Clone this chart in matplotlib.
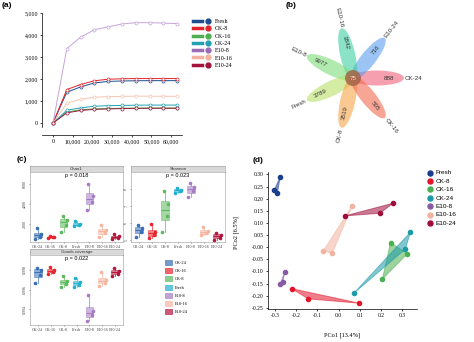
import matplotlib.pyplot as plt
from matplotlib.patches import Ellipse, Circle, Patch, Polygon
from matplotlib.lines import Line2D
from matplotlib.legend_handler import HandlerTuple
import numpy as np

plt.rcParams["font.family"] = "Liberation Serif"

# ---- data ----
groups = ["Fresh", "CK-8", "CK-16", "CK-24", "E10-8", "E10-16", "E10-24"]
colors = ["#1d4e8f", "#e3232a", "#4caf50", "#22a1b3", "#9b6bb8", "#f4b3a0", "#a3143d"]
curve_colors = ["#1d4e8f", "#e3232a", "#4caf50", "#22a1b3", "#c7a3d9", "#f8c4b4", "#9c1a3c"]

# (a) rarefaction
depth = [0, 7000, 14000, 21000, 28000, 35000, 42000, 49000, 56000, 63000]
fresh = [0, 1400, 1640, 1820, 1890, 1910, 1920, 1925, 1925, 1925]
ck8 = [0, 1520, 1750, 1920, 1990, 2010, 2020, 2020, 2020, 2020]
ck16 = [0, 500, 600, 640, 660, 670, 675, 680, 680, 680]
ck24 = [0, 580, 690, 760, 790, 800, 810, 815, 815, 815]
e10_8 = [0, 3380, 3900, 4240, 4370, 4500, 4560, 4560, 4540, 4520]
e10_16 = [0, 900, 1080, 1170, 1200, 1210, 1220, 1220, 1215, 1215]
e10_24 = [0, 460, 570, 620, 640, 655, 665, 670, 670, 670]
curves = [fresh, ck8, ck16, ck24, e10_8, e10_16, e10_24]

# (b) flower diagram
petal_names = ["CK-24", "E10-24", "E10-16", "E10-8", "Fresh", "CK-8", "CK-16"]
petal_counts = [888, 716, 1842, 9977, 3789, 3519, 505]
petal_colors = ["#f0607a", "#5b9ff0", "#3ecfa0", "#7ddc7a", "#b9e06a", "#f7a54a", "#f26b4f"]
core_count = 75

# (c) alpha diversity
c_groups = ["CK-24", "CK-16", "CK-8", "Fresh", "E10-8", "E10-16", "E10-24"]
c_colors = ["#3b6fb6", "#e8242c", "#5cb85c", "#22b0cf", "#a57cc4", "#f6b59f", "#b5163f"]
chao1 = [[450, 700, 950, 1550], [560, 640, 700, 760], [1150, 1900, 2400, 2800],
         [1750, 1850, 1950, 2250], [3400, 4200, 4800, 6000], [650, 1100, 1400, 1850],
         [450, 600, 750, 1000]]
shannon = [[5.2, 5.5, 5.7, 5.88], [5.12, 5.3, 5.5, 5.92], [5.5, 6.4, 7.1, 7.85],
           [7.75, 7.85, 7.95, 8.05], [7.5, 7.85, 8.1, 8.35], [5.3, 5.42, 5.55, 5.77],
           [5.0, 5.15, 5.3, 5.45]]
goods = [[0.9967, 0.9975, 0.9980, 0.99815], [0.9976, 0.9978, 0.9980, 0.99827],
         [0.9963, 0.9966, 0.9969, 0.99735], [0.9963, 0.9965, 0.9968, 0.9972],
         [0.9928, 0.9934, 0.9938, 0.9954], [0.9964, 0.9967, 0.9970, 0.99775],
         [0.99735, 0.9976, 0.9979, 0.99815]]
p_values = ["0.018", "0.023", "0.022"]

# (d) PCoA
pc1 = {"Fresh": [-0.276, -0.303, -0.289], "CK-8": [-0.221, -0.143, 0.097],
       "CK-16": [0.245, 0.325, 0.207], "CK-24": [0.339, 0.315, 0.072],
       "E10-8": [-0.253, -0.264, -0.276], "E10-16": [0.064, -0.072, -0.03],
       "E10-24": [0.257, 0.03, 0.195]}
pc2 = {"Fresh": [0.288, 0.236, 0.222], "CK-8": [-0.171, -0.213, -0.231],
       "CK-16": [0.019, -0.027, -0.131], "CK-24": [0.062, -0.008, -0.19],
       "E10-8": [-0.102, -0.143, -0.152], "E10-16": [0.170, -0.015, -0.026],
       "E10-24": [0.181, 0.129, 0.14]}
d_colors = ["#1a3e8c", "#e3152a", "#4cb050", "#1b9aa8", "#8a5ba5", "#f2b3a0", "#a00d3b"]

W, H = 474, 342
fig = plt.figure(figsize=(W / 100, H / 100), dpi=100)


def px_axes(x0, y0, x1, y1):
    return fig.add_axes([x0 / W, 1 - y1 / H, (x1 - x0) / W, (y1 - y0) / H])


# ---------- (a) ----------
ax = px_axes(42, 12, 182, 135)
for g, c, vals in zip(groups, curve_colors, curves):
    ax.plot(depth, vals, color=c, lw=0.7, marker="o", ms=2.2, mfc="white", mew=0.5)
ax.set_xlim(-5600, 65500)
ax.set_ylim(-545, 5045)
ax.set_xticks(range(0, 60001, 10000))
ax.set_xticklabels([f"{v:,}" for v in range(0, 60001, 10000)])
ax.set_yticks(range(0, 5001, 1000))
ax.set_yticklabels([f"{v:,}" for v in range(0, 5001, 1000)])
for s in ["top", "right"]:
    ax.spines[s].set_visible(False)
ax.spines["left"].set_bounds(-180, 5000)
ax.spines["left"].set_linewidth(0.5)
ax.spines["bottom"].set_linewidth(0.5)
ax.tick_params(labelsize=4.2, length=1.5, width=0.5, pad=1.5)

handles = [(Line2D([], [], color=c, lw=2.5), Line2D([], [], color=c, marker="o", ls="", ms=3.5))
           for c in colors]
fig.legend(handles, groups, loc="upper left", bbox_to_anchor=(193 / W, 1 - 19 / H),
           frameon=False, fontsize=4.3, handlelength=3.2, handletextpad=0.5,
           labelspacing=0.35, borderpad=0, borderaxespad=0,
           handler_map={tuple: HandlerTuple(ndivide=None, pad=0.3)})

# ---------- (b) ----------
axb = px_axes(280, 0, 470, 150)
axb.set_xlim(-73, 117)
axb.set_ylim(-72, 78)
axb.axis("off")
for i, (name, n, col) in enumerate(zip(petal_names, petal_counts, petal_colors)):
    ang = 360 / 7 * i
    t = np.deg2rad(ang)
    axb.add_patch(Ellipse((24 * np.cos(t), 24 * np.sin(t)), 54, 15, angle=ang,
                          fc=col, alpha=0.6, ec="none"))
    if ang < 90 or ang > 270:
        rot, ha = (ang if ang <= 90 else ang - 360), "left"
    else:
        rot, ha = ang - 180, "right"
    axb.text(36 * np.cos(t), 36 * np.sin(t), str(n), rotation=rot, ha="center", va="center",
             rotation_mode="anchor", fontsize=4.5, family="Liberation Sans", color="#333333")
    axb.text(52 * np.cos(t), 52 * np.sin(t), name, rotation=rot, ha=ha, va="center",
             rotation_mode="anchor", fontsize=4.5, family="Liberation Sans", color="#333333")
axb.add_patch(Circle((0, 0), 8, fc="#a5654a", alpha=0.85, ec="none"))
axb.text(0, 0, str(core_count), ha="center", va="center", fontsize=4.5,
         family="Liberation Sans", color="#f0e0d8")

# ---------- (c) ----------
jitter = [-0.22, 0.18, 0.26, -0.08]


def facet(x0, y0, x1, y1, title, pval, data, ylim, ticks, ticklabels):
    strip = px_axes(x0, y0, x1, y0 + 6)
    strip.set_facecolor("#d9d9d9")
    strip.set_xticks([])
    strip.set_yticks([])
    for s in strip.spines.values():
        s.set_color("#999999")
        s.set_linewidth(0.4)
    strip.text(0.5, 0.45, title, ha="center", va="center", fontsize=3.2,
               transform=strip.transAxes, family="Liberation Sans", color="#333333")
    a = px_axes(x0, y0 + 6, x1, y1)
    bp = a.boxplot(data, positions=range(7), widths=0.6, patch_artist=True,
                   showfliers=False, whis=10)
    for i, c in enumerate(c_colors):
        bp["boxes"][i].set(facecolor=c, alpha=0.55, edgecolor=c, lw=0.6)
        bp["medians"][i].set(color=c, lw=0.8)
        for w in bp["whiskers"][2 * i:2 * i + 2]:
            w.set(color=c, lw=0.5)
        for cp in bp["caps"][2 * i:2 * i + 2]:
            cp.set(color=c, lw=0.5, xdata=[i, i])
        a.scatter(np.array(jitter) + i, data[i], s=2.5, color=c, zorder=3)
    a.set_xlim(-0.6, 6.6)
    a.set_ylim(*ylim)
    a.set_yticks(ticks)
    a.set_yticklabels(ticklabels, rotation=90, va="center")
    a.set_xticks(range(7))
    a.set_xticklabels(c_groups)
    a.tick_params(labelsize=3, length=1, width=0.4, pad=1, colors="#444444")
    for s in a.spines.values():
        s.set_color("#999999")
        s.set_linewidth(0.4)
    a.text(0.5, 0.985, f"p = {pval}", transform=a.transAxes, ha="center", va="top",
           fontsize=4, family="Liberation Sans")


facet(30, 166, 123, 242, "Chao1", p_values[0], chao1, (170, 7170),
      [2000, 4000, 6000], ["2000", "4000", "6000"])
facet(131, 166, 225, 242, "Shannon", p_values[1], shannon, (4.9, 8.97),
      [5, 6, 7, 8], ["5", "6", "7", "8"])
facet(30, 249, 123, 325, "Goods coverage", p_values[2], goods, (0.9924, 0.9995),
      [0.994, 0.996, 0.998], ["0.994", "0.996", "0.998"])

c_handles = [Patch(facecolor=c, edgecolor=c, alpha=0.7, lw=0.6) for c in c_colors]
fig.legend(c_handles, c_groups, loc="upper left", bbox_to_anchor=(165 / W, 1 - 260 / H),
           frameon=False, fontsize=3.2, handlelength=1.6, handleheight=1.3,
           handletextpad=0.6, labelspacing=0.75, borderpad=0, borderaxespad=0)

# ---------- (d) ----------
axd = px_axes(268, 172, 417, 309)
for g, c in zip(groups, d_colors):
    xs, ys = pc1[g], pc2[g]
    axd.add_patch(Polygon(np.column_stack([xs, ys]), closed=True, fc=c, alpha=0.55,
                          ec=c, lw=0.7))
    axd.scatter(xs, ys, color=c, s=9, zorder=3, label=g)
axd.set_xlim(-0.333, 0.37)
axd.set_ylim(-0.255, 0.31)
axd.set_xticks(np.arange(-0.3, 0.31, 0.1))
axd.set_xticklabels(["-0.3", "-0.2", "-0.1", "0.0", "0.1", "0.2", "0.3"])
yt = np.arange(-0.25, 0.301, 0.05)
axd.set_yticks(yt)
axd.set_yticklabels([f"{v:.2f}" for v in yt])
for s in ["top", "right"]:
    axd.spines[s].set_visible(False)
for s in ["left", "bottom"]:
    axd.spines[s].set_linewidth(0.5)
axd.tick_params(labelsize=4, length=1.5, width=0.5, pad=1.5)
axd.set_xlabel("PCo1 [13.4%]", fontsize=4.5, labelpad=10)
axd.set_ylabel("PCo2 [6.5%]", fontsize=4.5)
axd.yaxis.set_label_coords(-0.195, 0.56)
fig.legend(*axd.get_legend_handles_labels(), loc="upper left",
           bbox_to_anchor=(428 / W, 1 - 170 / H), frameon=False,
           prop={"family": "Liberation Sans", "size": 4.6}, handlelength=0.6,
           handletextpad=0.6, labelspacing=0.45, borderpad=0, borderaxespad=0,
           markerscale=1.2)

# panel labels
for lab, x, y in [("(a)", 2, 2), ("(b)", 286, 2), ("(c)", 17, 156), ("(d)", 253, 157)]:
    fig.text(x / W, 1 - y / H, lab, fontsize=6, fontweight="bold", va="top",
             family="Liberation Sans")

fig.savefig("out.png", dpi=100)
